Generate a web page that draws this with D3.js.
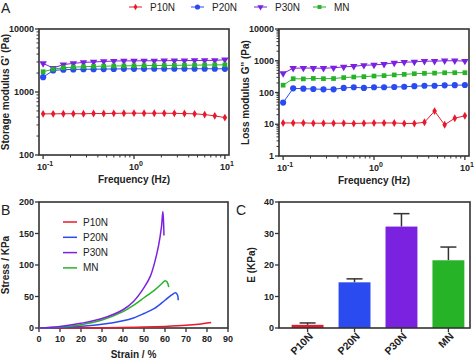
<!DOCTYPE html>
<html>
<head>
<meta charset="utf-8">
<script src="https://cdn.jsdelivr.net/npm/d3@7"></script>
<style>
  body { margin: 0; background: #fff; }
  svg { display: block; font-family: "Liberation Sans", Arial, sans-serif; }
  .tick-label { font-size: 9px; font-weight: bold; fill: #222; }
  .cat-label { font-size: 10.5px; font-weight: bold; fill: #222; }
  .axis-title { font-size: 10px; font-weight: bold; fill: #222; }
  .legend-text { font-size: 10px; fill: #222; }
  .panel-tag { font-size: 14px; fill: #222; }
</style>
</head>
<body>
<svg id="chart" width="474" height="361"></svg>
<script>
const SERIES = ['P10N', 'P20N', 'P30N', 'MN'];
const COLORS = { P10N: '#e8192c', P20N: '#2a4bf0', P30N: '#7b22e0', MN: '#27b327' };
const SYMBOLS = { P10N: d3.symbolDiamond, P20N: d3.symbolCircle, P30N: d3.symbolTriangle, MN: d3.symbolSquare };
const SYM_SIZE = { P10N: 18, P20N: 30, P30N: 24, MN: 22 };

// frequency sweep (Hz)
const freq = [0.1, 0.129, 0.167, 0.215, 0.278, 0.359, 0.464, 0.599, 0.774, 1,
              1.29, 1.67, 2.15, 2.78, 3.59, 4.64, 5.99, 7.74, 10];

// storage modulus G' (Pa)
const storageP10N = [450, 450, 452, 452, 452, 455, 455, 458, 460, 462, 460, 460, 460, 458, 455, 450, 438, 418, 392];
const storageP20N = [1720, 2200, 2260, 2280, 2300, 2300, 2310, 2320, 2330, 2330, 2330, 2340, 2340, 2340, 2340, 2340, 2340, 2340, 2330];
const storageP30N = [2850, 2400, 2720, 2850, 2950, 3000, 3050, 3100, 3120, 3120, 3130, 3130, 3140, 3150, 3150, 3160, 3170, 3180, 3250];
const storageMN   = [2100, 2300, 2430, 2480, 2520, 2550, 2570, 2590, 2600, 2610, 2620, 2630, 2640, 2650, 2660, 2670, 2680, 2690, 2700];

// loss modulus G'' (Pa)
const lossP10N = [11, 11, 11, 10.8, 10.8, 10.8, 10.8, 10.6, 10.8, 11, 11, 11, 10.6, 10.6, 11.5, 26, 9.6, 15.5, 18.5];
const lossP20N = [48, 135, 132, 129, 126, 126, 139, 146, 139, 146, 146, 149, 152, 158, 163, 163, 168, 170, 172];
const lossP30N = [400, 580, 590, 585, 580, 600, 640, 670, 720, 740, 780, 860, 900, 920, 970, 970, 1000, 1000, 980];
const lossMN   = [170, 272, 268, 278, 272, 275, 295, 308, 316, 330, 340, 358, 372, 390, 400, 408, 418, 420, 420];

// stress-strain curves: [strain %, stress KPa]
const curveP10N = [[0, 0], [10, 0.1], [20, 0.3], [30, 0.5], [40, 0.8], [50, 1.4], [60, 2.5], [70, 4.2], [76, 6], [82, 8.8]];
const curveP20N = [[0, 0], [10, 0.8], [20, 2.7], [30, 5.8], [40, 11.5], [45, 16], [50, 23], [55, 31], [60, 44], [63, 52], [65, 56], [66, 52], [66.3, 44]];
const curveMN   = [[0, 0], [10, 1.5], [20, 5.3], [30, 12.7], [40, 26], [45, 36], [50, 48], [55, 60], [58, 69], [60, 75], [61, 73], [61.8, 65]];
const curveP30N = [[0, 0], [10, 2.5], [20, 7.5], [30, 15], [40, 29], [45, 42], [50, 64], [53, 82], [55, 103], [57, 132], [58.3, 160], [59, 185], [59.4, 160], [59.5, 147]];

// Young's modulus (KPa), mean and error
const modulusMean = [1.0, 14.5, 32.2, 21.5];
const modulusErr  = [0.6, 1.1, 4.1, 4.2];

const storage = { P10N: storageP10N, P20N: storageP20N, P30N: storageP30N, MN: storageMN };
const loss    = { P10N: lossP10N, P20N: lossP20N, P30N: lossP30N, MN: lossMN };
const curves  = { P10N: curveP10N, P20N: curveP20N, P30N: curveP30N, MN: curveMN };

const svg = d3.select('#chart');
const AXIS = '#333';

function frame(g, x0, x1, y0, y1) {
  g.append('rect').attr('x', x0).attr('y', y0).attr('width', x1 - x0).attr('height', y1 - y0)
    .attr('fill', 'none').attr('stroke', AXIS).attr('stroke-width', 1.6);
}

function logTicks(lo, hi) {
  const major = [], minor = [];
  for (let p = Math.log10(lo); p <= Math.log10(hi); p++) {
    const b = Math.pow(10, p);
    major.push(b);
    if (b * 10 <= hi * 1.0001) for (let m = 2; m <= 9; m++) minor.push(b * m);
  }
  return { major, minor };
}

function supLabel(sel, exp) {
  sel.append('tspan').text('10');
  sel.append('tspan').attr('dy', -4).attr('font-size', '7px').text(exp);
}

function symbolAt(s) {
  return s === 'P30N' ? ' rotate(180)' : '';
}

function rheologyPanel(opts) {
  const { x0, x1, yTop, yBot, yDomain, data, title } = opts;
  const g = svg.append('g');
  const x = d3.scaleLog().domain([0.1 / 1.11, 10 * 1.11]).range([x0, x1]);
  const y = d3.scaleLog().domain(yDomain).range([yBot, yTop]);

  frame(g, x0, x1, yTop, yBot);

  const yt = logTicks(yDomain[0], yDomain[1]);
  g.selectAll('.ymaj').data(yt.major).join('line')
    .attr('x1', x0 - 4).attr('x2', x0).attr('y1', d => y(d)).attr('y2', d => y(d))
    .attr('stroke', AXIS).attr('stroke-width', 1.3);
  g.selectAll('.ymin').data(yt.minor).join('line')
    .attr('x1', x0 - 2.5).attr('x2', x0).attr('y1', d => y(d)).attr('y2', d => y(d))
    .attr('stroke', AXIS).attr('stroke-width', 1);
  g.selectAll('.ylab').data(yt.major).join('text')
    .attr('class', 'tick-label').attr('text-anchor', 'end')
    .attr('x', x0 - 5).attr('y', d => y(d) + 3).text(d => d3.format('d')(d));

  const xt = logTicks(0.1, 10);
  g.selectAll('.xmaj').data(xt.major).join('line')
    .attr('x1', d => x(d)).attr('x2', d => x(d)).attr('y1', yBot).attr('y2', yBot + 4)
    .attr('stroke', AXIS).attr('stroke-width', 1.3);
  g.selectAll('.xmin').data(xt.minor).join('line')
    .attr('x1', d => x(d)).attr('x2', d => x(d)).attr('y1', yBot).attr('y2', yBot + 2.5)
    .attr('stroke', AXIS).attr('stroke-width', 1);
  xt.major.forEach(d => {
    const t = g.append('text').attr('class', 'tick-label').attr('text-anchor', 'middle')
      .attr('x', x(d) + 2).attr('y', yBot + 15);
    supLabel(t, String(Math.round(Math.log10(d))));
  });

  g.append('text').attr('class', 'axis-title').attr('text-anchor', 'middle')
    .attr('x', (x0 + x1) / 2).attr('y', yBot + 28).text('Frequency (Hz)');
  g.append('text').attr('class', 'axis-title').attr('text-anchor', 'middle')
    .attr('transform', `translate(${x0 - 30},${(yTop + yBot) / 2}) rotate(-90)`).text(title);

  const line = d3.line().x((d, i) => x(freq[i])).y(d => y(d));
  SERIES.forEach(s => {
    g.append('path').datum(data[s]).attr('d', line)
      .attr('fill', 'none').attr('stroke', COLORS[s]).attr('stroke-width', 1);
  });
  SERIES.forEach(s => {
    g.selectAll(null).data(data[s]).join('path')
      .attr('transform', (d, i) => `translate(${x(freq[i])},${y(d)})` + symbolAt(s))
      .attr('d', d3.symbol().type(SYMBOLS[s]).size(SYM_SIZE[s]))
      .attr('fill', COLORS[s]);
  });
}

rheologyPanel({ x0: 39, x1: 229, yTop: 29, yBot: 155, yDomain: [100, 10000], data: storage, title: "Storage modulus G' (Pa)" });
rheologyPanel({ x0: 279, x1: 469, yTop: 29, yBot: 156, yDomain: [1, 10000], data: loss, title: "Loss modulus G'' (Pa)" });

// top legend
const legendX = { P10N: 129, P20N: 191, P30N: 254, MN: 313 };
SERIES.forEach(s => {
  const lx = legendX[s];
  svg.append('line').attr('x1', lx).attr('x2', lx + 13).attr('y1', 7).attr('y2', 7)
    .attr('stroke', COLORS[s]).attr('stroke-width', 1);
  svg.append('path').attr('transform', `translate(${lx + 6.5},7)` + symbolAt(s))
    .attr('d', d3.symbol().type(SYMBOLS[s]).size(SYM_SIZE[s] * 0.7)).attr('fill', COLORS[s]);
  svg.append('text').attr('class', 'legend-text').attr('x', lx + 21).attr('y', 10.5).text(s);
});

// panel B: stress-strain
(function () {
  const x0 = 39, x1 = 228, yTop = 202, yBot = 328;
  const g = svg.append('g');
  const x = d3.scaleLinear().domain([0, 90]).range([x0, x1]);
  const y = d3.scaleLinear().domain([0, 200]).range([yBot, yTop]);
  frame(g, x0, x1, yTop, yBot);

  const xticks = d3.range(0, 91, 10);
  g.selectAll('.xt').data(xticks).join('line')
    .attr('x1', d => x(d)).attr('x2', d => x(d)).attr('y1', yBot).attr('y2', yBot + 4)
    .attr('stroke', AXIS).attr('stroke-width', 1.3);
  g.selectAll('.xl').data(xticks).join('text').attr('class', 'tick-label')
    .attr('text-anchor', 'middle').attr('x', d => x(d)).attr('y', yBot + 14).text(d => d);
  const yticks = d3.range(0, 201, 50);
  g.selectAll('.yt').data(yticks).join('line')
    .attr('x1', x0 - 4).attr('x2', x0).attr('y1', d => y(d)).attr('y2', d => y(d))
    .attr('stroke', AXIS).attr('stroke-width', 1.3);
  g.selectAll('.yl').data(yticks).join('text').attr('class', 'tick-label')
    .attr('text-anchor', 'end').attr('x', x0 - 5).attr('y', d => y(d) + 3).text(d => d);

  g.append('text').attr('class', 'axis-title').attr('text-anchor', 'middle')
    .attr('x', (x0 + x1) / 2).attr('y', yBot + 30).text('Strain / %');
  g.append('text').attr('class', 'axis-title').attr('text-anchor', 'middle')
    .attr('transform', `translate(${x0 - 30},${(yTop + yBot) / 2}) rotate(-90)`).text('Stress / KPa');

  const line = d3.line().x(d => x(d[0])).y(d => y(d[1])).curve(d3.curveCatmullRom);
  ['P10N', 'P20N', 'MN', 'P30N'].forEach(s => {
    g.append('path').datum(curves[s]).attr('d', line)
      .attr('fill', 'none').attr('stroke', COLORS[s]).attr('stroke-width', 1.5);
  });

  SERIES.forEach((s, i) => {
    const ly = 222 + i * 15.3;
    g.append('line').attr('x1', 63).attr('x2', 77).attr('y1', ly).attr('y2', ly)
      .attr('stroke', COLORS[s]).attr('stroke-width', 1.5);
    g.append('text').attr('class', 'legend-text').attr('x', 83).attr('y', ly + 3.5).text(s);
  });
})();

// panel C: modulus bars
(function () {
  const x0 = 279, x1 = 470, yTop = 202, yBot = 328;
  const g = svg.append('g');
  const x = d3.scaleBand().domain(SERIES).range([286, 470]).paddingInner(0.32).paddingOuter(0.12);
  const y = d3.scaleLinear().domain([0, 40]).range([yBot, yTop]);

  SERIES.forEach((s, i) => {
    const cx = x(s) + x.bandwidth() / 2;
    g.append('line').attr('x1', cx).attr('x2', cx)
      .attr('y1', y(modulusMean[i])).attr('y2', y(modulusMean[i] + modulusErr[i]))
      .attr('stroke', AXIS).attr('stroke-width', 1.5);
    g.append('line').attr('x1', cx - 8).attr('x2', cx + 8)
      .attr('y1', y(modulusMean[i] + modulusErr[i])).attr('y2', y(modulusMean[i] + modulusErr[i]))
      .attr('stroke', AXIS).attr('stroke-width', 1.5);
    g.append('rect').attr('x', x(s)).attr('width', x.bandwidth())
      .attr('y', y(modulusMean[i])).attr('height', yBot - y(modulusMean[i]))
      .attr('fill', COLORS[s]);
  });

  frame(g, x0, x1, yTop, yBot);
  const yticks = d3.range(0, 41, 10);
  g.selectAll('.yt').data(yticks).join('line')
    .attr('x1', x0 - 4).attr('x2', x0).attr('y1', d => y(d)).attr('y2', d => y(d))
    .attr('stroke', AXIS).attr('stroke-width', 1.3);
  g.selectAll('.yl').data(yticks).join('text').attr('class', 'tick-label')
    .attr('text-anchor', 'end').attr('x', x0 - 5).attr('y', d => y(d) + 3).text(d => d);
  g.selectAll('.xt').data(SERIES).join('line')
    .attr('x1', d => x(d) + x.bandwidth() / 2).attr('x2', d => x(d) + x.bandwidth() / 2)
    .attr('y1', yBot).attr('y2', yBot + 4).attr('stroke', AXIS).attr('stroke-width', 1.3);
  g.selectAll('.xl').data(SERIES).join('text').attr('class', 'cat-label')
    .attr('text-anchor', 'end')
    .attr('transform', d => `translate(${x(d) + x.bandwidth() / 2 + 6},${yBot + 9}) rotate(-45)`)
    .text(d => d);

  g.append('text').attr('class', 'axis-title').attr('text-anchor', 'middle')
    .attr('transform', `translate(${x0 - 24},${(yTop + yBot) / 2}) rotate(-90)`).text('E  (KPa)');
})();

// panel tags
svg.append('text').attr('class', 'panel-tag').attr('x', 1).attr('y', 13).text('A');
svg.append('text').attr('class', 'panel-tag').attr('x', 1).attr('y', 215).text('B');
svg.append('text').attr('class', 'panel-tag').attr('x', 236).attr('y', 215).text('C');
</script>
</body>
</html>
